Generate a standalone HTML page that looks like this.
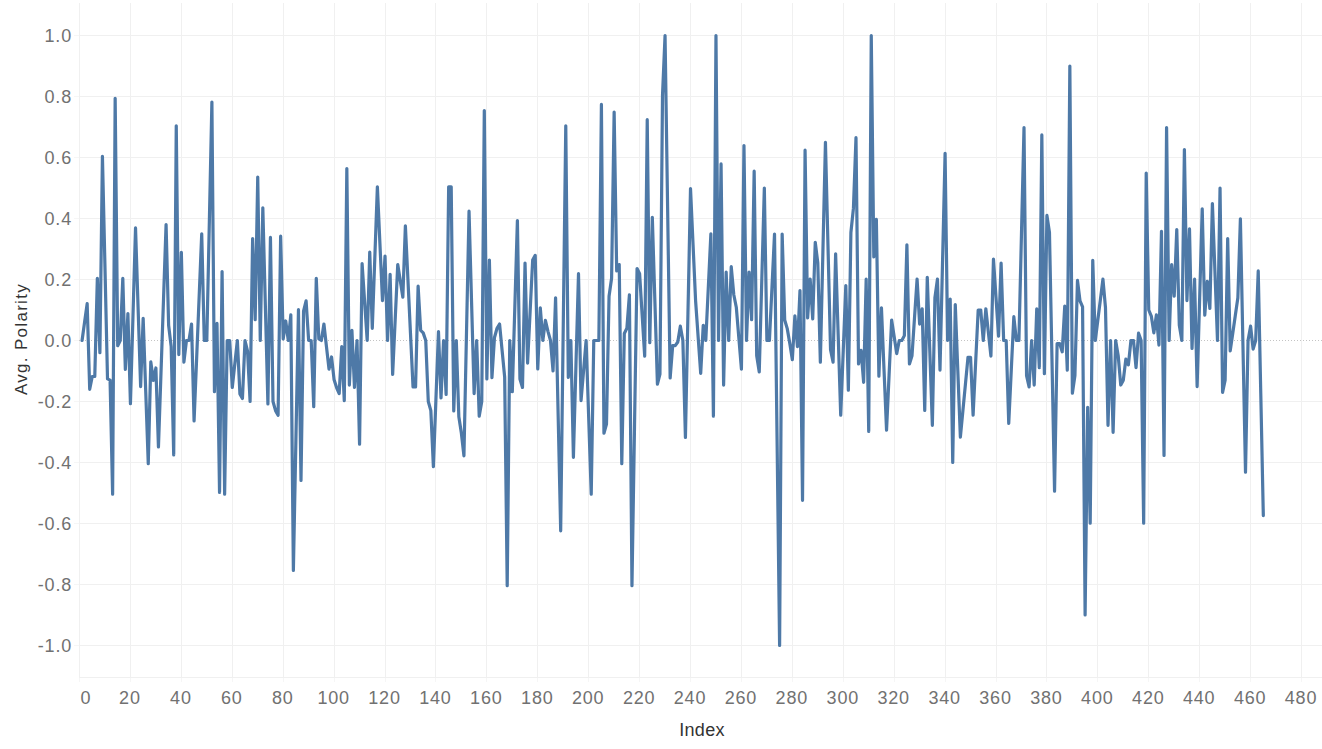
<!DOCTYPE html>
<html><head><meta charset="utf-8"><style>
html,body{margin:0;padding:0;background:#fff;}
body{width:1322px;height:749px;position:relative;overflow:hidden;font-family:"Liberation Sans",sans-serif;}
svg{position:absolute;left:0;top:0;}
.yl{position:absolute;left:0;width:72px;text-align:right;font-size:18px;line-height:21px;color:#717171;letter-spacing:0.8px;}
.xl{position:absolute;top:688px;width:60px;text-align:center;font-size:18px;line-height:21px;color:#717171;letter-spacing:0.8px;}
.ytitle{position:absolute;left:22px;top:338.5px;transform:translate(-50%,-50%) rotate(-90deg);font-size:17px;line-height:20px;color:#333;white-space:nowrap;letter-spacing:1.3px;}
.xtitle{position:absolute;left:0;width:1404px;top:719.5px;text-align:center;font-size:18px;line-height:21px;color:#333;letter-spacing:0.3px;}
</style></head><body>
<svg width="1322" height="749" viewBox="0 0 1322 749">
<g stroke="#f0f0f0" stroke-width="1" shape-rendering="crispEdges">
<line x1="79" y1="645.5" x2="1322" y2="645.5" />
<line x1="79" y1="584.5" x2="1322" y2="584.5" />
<line x1="79" y1="523.5" x2="1322" y2="523.5" />
<line x1="79" y1="462.5" x2="1322" y2="462.5" />
<line x1="79" y1="401.5" x2="1322" y2="401.5" />
<line x1="79" y1="279.5" x2="1322" y2="279.5" />
<line x1="79" y1="218.5" x2="1322" y2="218.5" />
<line x1="79" y1="157.5" x2="1322" y2="157.5" />
<line x1="79" y1="96.5" x2="1322" y2="96.5" />
<line x1="79" y1="35.5" x2="1322" y2="35.5" />
<line x1="79.5" y1="3" x2="79.5" y2="677" />
<line x1="130.5" y1="3" x2="130.5" y2="677" />
<line x1="181.5" y1="3" x2="181.5" y2="677" />
<line x1="232.5" y1="3" x2="232.5" y2="677" />
<line x1="283.5" y1="3" x2="283.5" y2="677" />
<line x1="334.5" y1="3" x2="334.5" y2="677" />
<line x1="385.5" y1="3" x2="385.5" y2="677" />
<line x1="435.5" y1="3" x2="435.5" y2="677" />
<line x1="486.5" y1="3" x2="486.5" y2="677" />
<line x1="537.5" y1="3" x2="537.5" y2="677" />
<line x1="588.5" y1="3" x2="588.5" y2="677" />
<line x1="639.5" y1="3" x2="639.5" y2="677" />
<line x1="690.5" y1="3" x2="690.5" y2="677" />
<line x1="741.5" y1="3" x2="741.5" y2="677" />
<line x1="792.5" y1="3" x2="792.5" y2="677" />
<line x1="843.5" y1="3" x2="843.5" y2="677" />
<line x1="894.5" y1="3" x2="894.5" y2="677" />
<line x1="945.5" y1="3" x2="945.5" y2="677" />
<line x1="996.5" y1="3" x2="996.5" y2="677" />
<line x1="1046.5" y1="3" x2="1046.5" y2="677" />
<line x1="1097.5" y1="3" x2="1097.5" y2="677" />
<line x1="1148.5" y1="3" x2="1148.5" y2="677" />
<line x1="1199.5" y1="3" x2="1199.5" y2="677" />
<line x1="1250.5" y1="3" x2="1250.5" y2="677" />
<line x1="1301.5" y1="3" x2="1301.5" y2="677" />
<line x1="79" y1="677.5" x2="1322" y2="677.5" />
</g>
<g stroke="#f6f6f6" stroke-width="1" shape-rendering="crispEdges">
<line x1="74" y1="645.5" x2="79" y2="645.5" />
<line x1="74" y1="584.5" x2="79" y2="584.5" />
<line x1="74" y1="523.5" x2="79" y2="523.5" />
<line x1="74" y1="462.5" x2="79" y2="462.5" />
<line x1="74" y1="401.5" x2="79" y2="401.5" />
<line x1="74" y1="340.5" x2="79" y2="340.5" />
<line x1="74" y1="279.5" x2="79" y2="279.5" />
<line x1="74" y1="218.5" x2="79" y2="218.5" />
<line x1="74" y1="157.5" x2="79" y2="157.5" />
<line x1="74" y1="96.5" x2="79" y2="96.5" />
<line x1="74" y1="35.5" x2="79" y2="35.5" />
<line x1="79.5" y1="678" x2="79.5" y2="682" />
<line x1="130.5" y1="678" x2="130.5" y2="682" />
<line x1="181.5" y1="678" x2="181.5" y2="682" />
<line x1="232.5" y1="678" x2="232.5" y2="682" />
<line x1="283.5" y1="678" x2="283.5" y2="682" />
<line x1="334.5" y1="678" x2="334.5" y2="682" />
<line x1="385.5" y1="678" x2="385.5" y2="682" />
<line x1="435.5" y1="678" x2="435.5" y2="682" />
<line x1="486.5" y1="678" x2="486.5" y2="682" />
<line x1="537.5" y1="678" x2="537.5" y2="682" />
<line x1="588.5" y1="678" x2="588.5" y2="682" />
<line x1="639.5" y1="678" x2="639.5" y2="682" />
<line x1="690.5" y1="678" x2="690.5" y2="682" />
<line x1="741.5" y1="678" x2="741.5" y2="682" />
<line x1="792.5" y1="678" x2="792.5" y2="682" />
<line x1="843.5" y1="678" x2="843.5" y2="682" />
<line x1="894.5" y1="678" x2="894.5" y2="682" />
<line x1="945.5" y1="678" x2="945.5" y2="682" />
<line x1="996.5" y1="678" x2="996.5" y2="682" />
<line x1="1046.5" y1="678" x2="1046.5" y2="682" />
<line x1="1097.5" y1="678" x2="1097.5" y2="682" />
<line x1="1148.5" y1="678" x2="1148.5" y2="682" />
<line x1="1199.5" y1="678" x2="1199.5" y2="682" />
<line x1="1250.5" y1="678" x2="1250.5" y2="682" />
<line x1="1301.5" y1="678" x2="1301.5" y2="682" />
</g>
<line x1="79" y1="340.5" x2="1322" y2="340.5" stroke="#c4c4c4" stroke-width="1" stroke-dasharray="1 2" shape-rendering="crispEdges"/>
<polyline points="82.07,340.50 84.61,322.05 87.16,303.60 89.70,389.30 92.25,376.49 94.79,376.49 97.34,278.28 99.89,352.70 102.43,156.28 104.98,267.61 107.52,378.93 110.07,380.15 112.62,494.22 115.16,98.33 117.71,345.69 120.25,340.50 122.80,278.28 125.34,369.48 127.89,313.66 130.44,403.63 132.98,315.80 135.53,227.95 138.07,307.25 140.62,386.56 143.16,318.24 145.71,390.98 148.26,463.72 150.80,361.85 153.35,380.45 155.89,367.95 158.44,446.94 160.99,372.83 163.53,298.71 166.08,224.60 168.62,325.25 171.17,346.60 173.71,454.88 176.26,125.78 178.81,354.53 181.35,252.36 183.90,362.15 186.44,340.50 188.99,340.50 191.54,324.03 194.08,421.02 196.63,358.60 199.17,296.17 201.72,233.75 204.26,340.50 206.81,340.50 209.36,221.25 211.90,101.99 214.45,391.74 216.99,323.42 219.54,492.39 222.08,271.57 224.63,494.22 227.18,340.50 229.72,340.50 232.27,387.47 234.81,363.99 237.36,340.50 239.91,393.88 242.45,398.45 245.00,340.50 247.54,351.18 250.09,401.50 252.63,238.63 255.18,319.76 257.73,177.02 260.27,340.50 262.82,207.82 265.36,305.88 267.91,403.94 270.45,237.41 273.00,401.50 275.55,410.65 278.09,415.23 280.64,236.19 283.18,338.98 285.73,320.98 288.28,340.50 290.82,314.88 293.37,570.47 295.91,440.08 298.46,309.69 301.00,480.50 303.55,311.22 306.10,300.85 308.64,340.50 311.19,340.50 313.73,406.69 316.28,278.28 318.83,338.98 321.37,340.50 323.92,324.03 326.46,346.60 329.01,369.17 331.55,356.97 334.10,379.85 336.65,387.77 339.19,393.57 341.74,346.60 344.28,400.58 346.83,168.48 349.37,385.03 351.92,330.44 354.47,387.47 357.01,340.50 359.56,444.20 362.10,263.64 364.65,302.07 367.20,340.50 369.74,252.05 372.29,328.30 374.83,257.54 377.38,186.78 379.92,243.66 382.47,300.55 385.02,256.01 387.56,340.50 390.11,274.31 392.65,374.36 395.20,319.45 397.74,264.56 400.29,280.87 402.84,297.19 405.38,225.82 407.93,279.50 410.47,333.18 413.02,386.86 415.57,386.86 418.11,286.21 420.66,330.44 423.20,332.88 425.75,340.50 428.29,401.50 430.84,410.65 433.39,466.77 435.93,399.21 438.48,331.65 441.02,397.84 443.57,340.50 446.12,394.49 448.66,186.78 451.21,186.78 453.75,410.95 456.30,340.50 458.84,416.75 461.39,433.22 463.94,455.79 466.48,333.49 469.03,211.18 471.57,302.38 474.12,393.57 476.66,340.50 479.21,416.14 481.76,401.50 484.30,110.53 486.85,378.93 489.39,259.98 491.94,377.71 494.49,337.45 497.03,328.30 499.58,324.03 502.12,350.56 504.67,377.10 507.21,585.72 509.76,340.50 512.31,391.74 514.85,306.19 517.40,220.63 519.94,378.93 522.49,387.47 525.03,263.03 527.58,363.07 530.13,311.52 532.67,259.98 535.22,255.40 537.76,368.87 540.31,307.87 542.86,340.50 545.40,320.37 547.95,331.35 550.49,340.50 553.04,371.00 555.58,297.80 558.13,414.31 560.68,530.82 563.22,328.30 565.77,125.78 568.31,377.40 570.86,340.50 573.41,457.31 575.95,365.51 578.50,273.70 581.04,400.58 583.59,370.54 586.13,340.50 588.68,417.36 591.23,494.22 593.77,340.50 596.32,340.50 598.86,340.50 601.41,104.43 603.95,433.22 606.50,424.07 609.05,296.27 611.59,278.28 614.14,112.06 616.68,270.96 619.23,264.56 621.78,463.72 624.32,333.49 626.87,328.30 629.41,294.75 631.96,585.72 634.50,427.12 637.05,268.52 639.60,273.70 642.14,314.88 644.69,356.06 647.23,119.68 649.78,342.63 652.32,217.28 654.87,300.70 657.42,384.12 659.96,374.05 662.51,95.28 665.05,35.50 667.60,206.76 670.15,378.01 672.69,345.69 675.24,345.69 677.78,342.02 680.33,326.17 682.87,340.50 685.42,437.49 687.97,313.05 690.51,188.61 693.06,244.73 695.60,300.85 698.15,337.14 700.70,373.44 703.24,325.25 705.79,340.50 708.33,287.12 710.88,233.75 713.42,416.14 715.97,35.50 718.52,340.50 721.06,163.91 723.61,385.03 726.15,272.18 728.70,340.50 731.24,266.69 733.79,294.75 736.34,307.56 738.88,338.37 741.43,369.17 743.97,145.60 746.52,340.50 749.07,272.18 751.61,319.76 754.16,171.22 756.70,355.75 759.25,371.92 761.79,279.96 764.34,188.00 766.89,340.50 769.43,340.50 771.98,287.28 774.52,234.06 777.07,439.78 779.61,645.50 782.16,234.06 784.71,320.06 787.25,328.61 789.80,343.55 792.34,359.71 794.89,315.80 797.44,346.60 799.98,290.48 802.53,500.32 805.07,150.18 807.62,317.93 810.16,279.19 812.71,318.85 815.26,242.29 817.80,263.03 820.35,362.15 822.89,252.20 825.44,142.25 827.99,245.95 830.53,349.65 833.08,362.15 835.62,253.88 838.17,334.55 840.71,415.23 843.26,350.41 845.81,285.60 848.35,390.22 850.90,232.53 853.44,208.13 855.99,137.67 858.53,363.99 861.08,350.26 863.63,382.29 866.17,279.19 868.72,431.39 871.26,35.50 873.81,256.93 876.36,219.41 878.90,376.19 881.45,307.87 883.99,369.02 886.54,430.17 889.08,375.12 891.63,320.06 894.18,336.84 896.72,353.62 899.27,340.50 901.81,340.50 904.36,335.62 906.90,244.73 909.45,363.99 912.00,355.75 914.54,317.47 917.09,279.19 919.63,324.03 922.18,308.78 924.73,410.35 927.27,277.37 929.82,351.33 932.36,425.29 934.91,297.80 937.45,279.19 940.00,370.08 942.55,261.66 945.09,153.23 947.64,340.50 950.18,299.02 952.73,462.50 955.28,304.51 957.82,370.85 960.37,437.19 962.91,410.55 965.46,383.91 968.00,357.27 970.55,357.27 973.10,415.23 975.64,362.61 978.19,310.00 980.73,310.00 983.28,340.50 985.82,308.78 988.37,332.42 990.92,356.06 993.46,259.06 996.01,297.65 998.55,336.23 1001.10,263.03 1003.65,340.50 1006.19,340.50 1008.74,423.46 1011.28,370.08 1013.83,316.71 1016.37,340.50 1018.92,340.50 1021.47,234.06 1024.01,127.61 1026.56,375.57 1029.10,386.86 1031.65,340.50 1034.19,385.03 1036.74,308.78 1039.29,367.64 1041.83,134.93 1044.38,373.75 1046.92,215.45 1049.47,232.53 1052.02,361.85 1054.56,491.17 1057.11,343.55 1059.65,343.55 1062.20,351.79 1064.74,306.03 1067.29,370.08 1069.84,66.00 1072.38,393.26 1074.93,375.57 1077.47,280.42 1080.02,300.85 1082.57,306.95 1085.11,615.00 1087.66,407.30 1090.20,523.19 1092.75,260.28 1095.29,340.50 1097.84,320.06 1100.39,299.63 1102.93,279.19 1105.48,307.56 1108.02,425.29 1110.57,340.50 1113.11,432.31 1115.66,340.50 1118.21,355.75 1120.75,385.03 1123.30,380.15 1125.84,359.11 1128.39,364.90 1130.94,340.50 1133.48,340.50 1136.03,367.64 1138.57,333.18 1141.12,340.50 1143.66,523.19 1146.21,173.05 1148.76,310.00 1151.30,316.10 1153.85,332.88 1156.39,314.88 1158.94,345.07 1161.48,231.31 1164.03,455.49 1166.58,127.61 1169.12,340.50 1171.67,264.56 1174.21,296.27 1176.76,229.48 1179.31,325.25 1181.85,340.50 1184.40,149.57 1186.94,300.55 1189.49,228.87 1192.03,348.43 1194.58,279.19 1197.13,386.56 1199.67,297.65 1202.22,208.74 1204.76,315.19 1207.31,281.33 1209.86,308.48 1212.40,203.56 1214.95,272.03 1217.49,340.50 1220.04,188.00 1222.58,392.35 1225.13,380.15 1227.68,238.63 1230.22,350.87 1232.77,333.18 1235.31,315.49 1237.86,297.80 1240.40,218.81 1242.95,345.53 1245.50,472.26 1248.04,340.50 1250.59,326.17 1253.13,349.04 1255.68,340.50 1258.23,270.96 1260.77,393.26 1263.32,515.57" fill="none" stroke="#4e79a7" stroke-width="3.2" stroke-linejoin="round" stroke-linecap="round"/>
</svg>
<div class="yl" style="top:636.0px">-1.0</div>
<div class="yl" style="top:575.0px">-0.8</div>
<div class="yl" style="top:514.0px">-0.6</div>
<div class="yl" style="top:453.0px">-0.4</div>
<div class="yl" style="top:392.0px">-0.2</div>
<div class="yl" style="top:331.0px">0.0</div>
<div class="yl" style="top:270.0px">0.2</div>
<div class="yl" style="top:209.0px">0.4</div>
<div class="yl" style="top:148.0px">0.6</div>
<div class="yl" style="top:87.0px">0.8</div>
<div class="yl" style="top:26.0px">1.0</div>
<div class="xl" style="left:56.0px">0</div>
<div class="xl" style="left:99.9px">20</div>
<div class="xl" style="left:150.9px">40</div>
<div class="xl" style="left:201.8px">60</div>
<div class="xl" style="left:252.7px">80</div>
<div class="xl" style="left:303.6px">100</div>
<div class="xl" style="left:354.5px">120</div>
<div class="xl" style="left:405.4px">140</div>
<div class="xl" style="left:456.3px">160</div>
<div class="xl" style="left:507.3px">180</div>
<div class="xl" style="left:558.2px">200</div>
<div class="xl" style="left:609.1px">220</div>
<div class="xl" style="left:660.0px">240</div>
<div class="xl" style="left:710.9px">260</div>
<div class="xl" style="left:761.8px">280</div>
<div class="xl" style="left:812.8px">300</div>
<div class="xl" style="left:863.7px">320</div>
<div class="xl" style="left:914.6px">340</div>
<div class="xl" style="left:965.5px">360</div>
<div class="xl" style="left:1016.4px">380</div>
<div class="xl" style="left:1067.3px">400</div>
<div class="xl" style="left:1118.3px">420</div>
<div class="xl" style="left:1169.2px">440</div>
<div class="xl" style="left:1220.1px">460</div>
<div class="xl" style="left:1271.0px">480</div>
<div class="ytitle">Avg. Polarity</div>
<div class="xtitle">Index</div>
</body></html>
